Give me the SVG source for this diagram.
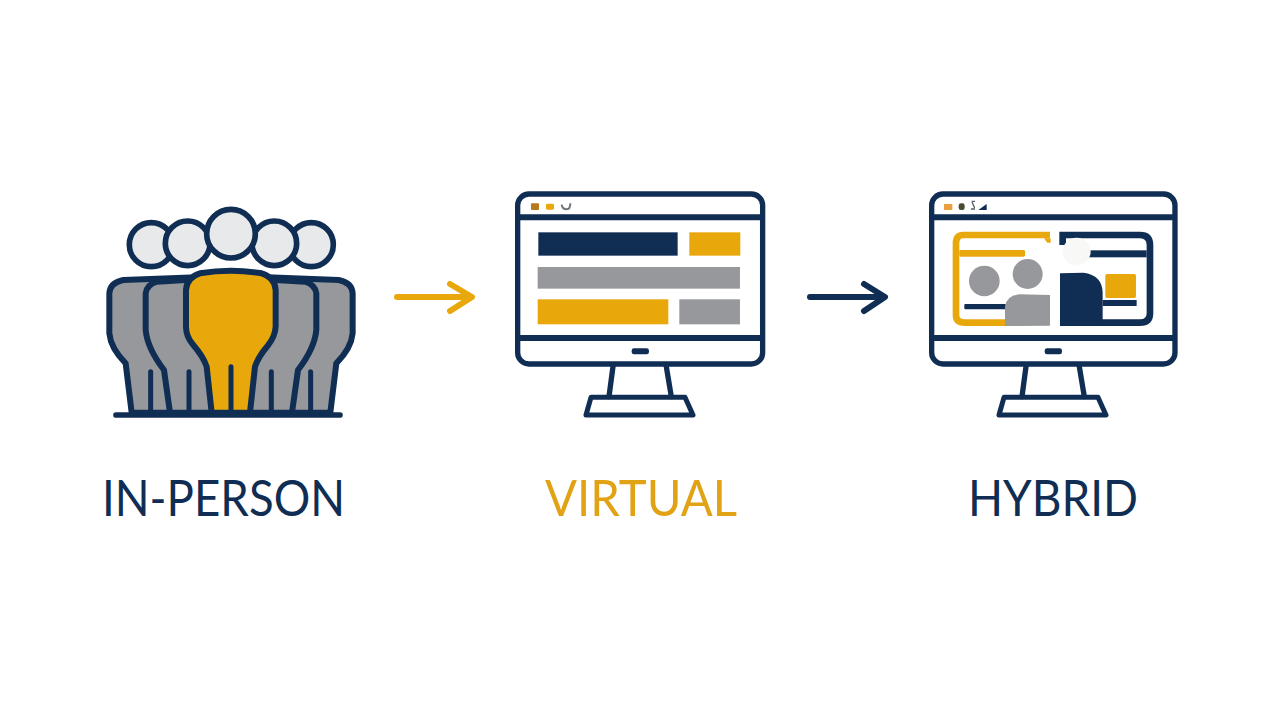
<svg xmlns="http://www.w3.org/2000/svg" width="1280" height="720" viewBox="0 0 1280 720">
<defs>
<style>
.n{fill:none;stroke:#102e54;stroke-linecap:round;stroke-linejoin:round}
.bar{fill:none;stroke:#102e54;stroke-width:18}
.g{fill:#96989c}.y{fill:#e8a80c}.d{fill:#102e54}
.head{fill:#e8e9eb;stroke:#102e54;stroke-width:17}
.body{stroke:#102e54;stroke-width:18;stroke-linejoin:round}
.arrow{fill:none;stroke-width:6;stroke-linecap:round;stroke-linejoin:round}
.t{font-family:"Lato","Noto Sans",sans-serif;font-size:50px;text-anchor:middle}
</style>
<g id="monitor-stand">
<rect class="d" x="380" y="505" width="52" height="18" rx="7"/>
<path class="n" d="M324 560L312 650M484 560L499 650" stroke-width="16"/>
<path class="n" d="M258 652H540L564 705H243Z" stroke-width="15"/>
</g>
</defs>
<rect width="1280" height="720" fill="#fff"/>
<g id="in-person" transform="translate(90 190) scale(.3333)">
<circle class="head" cx="184" cy="164" r="66"/>
<circle class="head" cx="664" cy="164" r="66"/>
<circle class="head" cx="293" cy="160" r="67"/>
<circle class="head" cx="553" cy="160" r="67"/>
<circle class="head" cx="423" cy="131" r="73"/>
<path class="g body" d="M125 668L107 520Q62 475 58 430L58 310Q60 278 100 270L423 258V668Z"/>
<path class="g body" d="M721 668L739 520Q784 475 788 430L788 310Q786 278 746 270L423 258V668Z"/>
<path class="g body" d="M240 668L222 540Q172 475 167 420L167 310Q170 285 200 275L423 262V668Z"/>
<path class="g body" d="M606 668L624 540Q674 475 679 420L679 310Q676 285 646 275L423 262V668Z"/>
<path class="y body" d="M365 668L350 530Q340 500 310 465Q288 440 288 410L288 300Q290 262 330 250Q423 235 515 250Q555 262 557 300L557 410Q555 440 535 465Q505 500 495 530L480 668Z"/>
<path class="n" d="M182 545V668M297 545V668M423 530V668M544 545V668M662 545V668" stroke-width="15"/>
<path class="n" d="M78 675H750" stroke-width="17"/>
</g>
<g id="connectors">
<path class="arrow" d="M397 297H470M450 284L472 297L450 311" stroke="#e8a80c"/>
<path class="arrow" d="M810 297H884M864 284L885 297L864 311" stroke="#102e54"/>
</g>
<g id="virtual" transform="translate(505 180) scale(.3333)">
<rect class="n" x="38" y="42" width="735" height="510" rx="34" stroke-width="16"/>
<path class="bar" d="M38 112H773M38 474H773"/>
<use href="#monitor-stand"/>
<rect class="d" x="100" y="157" width="418" height="70"/>
<rect class="y" x="553" y="157" width="153" height="70"/>
<rect class="g" x="98" y="261" width="607" height="65"/>
<rect class="y" x="98" y="358" width="392" height="75"/>
<rect class="g" x="523" y="358" width="182" height="75"/>
<rect x="78" y="70" width="24" height="20" rx="3" fill="#b8791a"/>
<rect class="y" x="123" y="71" width="24" height="18" rx="4"/>
<path d="M170 74Q172 88 185 88Q196 88 196 70" fill="none" stroke="#70757c" stroke-width="6"/>
</g>
<g id="hybrid" transform="translate(920 180) scale(.3333)">
<rect class="n" x="35" y="42" width="730" height="510" rx="34" stroke-width="16"/>
<path class="bar" d="M35 112H765M35 474H765"/>
<use href="#monitor-stand" x="-6"/>
<path d="M390 165H130Q108 165 108 190V405Q108 428 135 428H260" fill="none" stroke="#e8a80c" stroke-width="20"/>
<path class="y" d="M372 175H392V188H382Z"/>
<rect class="y" x="118" y="210" width="197" height="20" rx="4"/>
<circle class="g" cx="193" cy="303" r="46"/>
<circle class="g" cx="323" cy="282" r="45"/>
<rect class="d" x="133" y="372" width="125" height="16" rx="3"/>
<path class="g" d="M255 438V380Q260 345 300 343L390 345V437Z"/>
<path d="M428 195V165H660Q690 165 690 195V400Q690 428 660 428H420" fill="none" stroke="#102e54" stroke-width="20"/>
<rect class="d" x="500" y="211" width="180" height="21"/>
<circle cx="470" cy="215" r="42" fill="#f8f8f7"/>
<path class="d" d="M420 437V280L490 278Q548 285 548 340V437Z"/>
<rect class="y" x="556" y="282" width="92" height="72" rx="5"/>
<rect class="d" x="548" y="360" width="102" height="18"/>
<rect x="72" y="72" width="25" height="18" fill="#e8a040"/>
<rect x="116" y="70" width="18" height="20" rx="7" fill="#4a4a30"/>
<path d="M155 64H165M156 66L164 84M153 87H165" fill="none" stroke="#555e68" stroke-width="4"/>
<path class="d" d="M175 90L200 72V90Z"/>
</g>
<g id="labels">
<text class="t" x="223.5" y="516" fill="#102e54" textLength="243" lengthAdjust="spacingAndGlyphs">IN-PERSON</text>
<text class="t" x="641" y="516" fill="#e2a215" textLength="192" lengthAdjust="spacingAndGlyphs">VIRTUAL</text>
<text class="t" x="1053" y="516" fill="#102e54" textLength="170" lengthAdjust="spacingAndGlyphs">HYBRID</text>
</g>
</svg>
